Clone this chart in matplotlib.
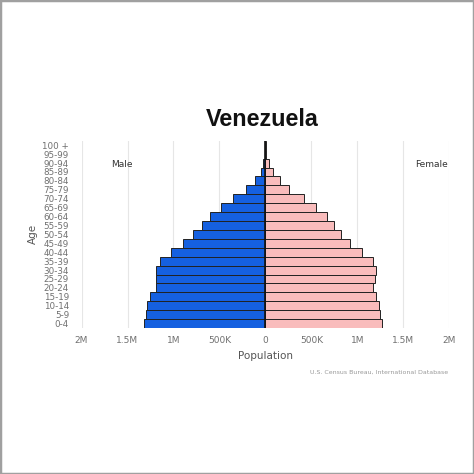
import numpy as np
import matplotlib
matplotlib.use("Agg")
import matplotlib.pyplot as plt

# age groups, bottom to top
age_groups = ["0-4", "5-9", "10-14", "15-19", "20-24", "25-29", "30-34",
              "35-39", "40-44", "45-49", "50-54", "55-59", "60-64", "65-69",
              "70-74", "75-79", "80-84", "85-89", "90-94", "95-99", "100 +"]

# population
male = [1320000, 1297000, 1286000, 1260000, 1190000, 1190000, 1190000,
        1145000, 1030000, 900000, 790000, 690000, 600000, 480000,
        350000, 210000, 112000, 50000, 22000, 5000, 800]
female = [1270000, 1250000, 1240000, 1207000, 1170000, 1190000, 1200000,
          1170000, 1050000, 920000, 820000, 750000, 670000, 550000,
          420000, 260000, 163000, 84000, 37000, 10000, 2000]

tick_vals = [-2000000, -1500000, -1000000, -500000, 0, 500000, 1000000, 1500000, 2000000]
tick_labels = ["2M", "1.5M", "1M", "500K", "0", "500K", "1M", "1.5M", "2M"]

fig = plt.figure(figsize=(4.74, 4.74), dpi=100)
ax = fig.add_axes([0.172, 0.308, 0.776, 0.395])

y = np.arange(len(age_groups))
ax.barh(y, -np.array(male), height=1.0, color="#1560e0", edgecolor="#222222", linewidth=0.7, zorder=3)
ax.barh(y, female, height=1.0, color="#f9bcbc", edgecolor="#222222", linewidth=0.7, zorder=3)
ax.axvline(0, color="#111111", linewidth=1.2, zorder=4)

ax.set_xlim(-2000000, 2000000)
ax.set_ylim(-0.5, len(age_groups) - 0.5)
ax.set_xticks(tick_vals)
ax.set_xticklabels(tick_labels, fontsize=6.5, color="#707070")
ax.set_yticks(y)
ax.set_yticklabels(age_groups, fontsize=6.3, color="#707070")
ax.tick_params(axis="both", length=0)
ax.tick_params(axis="y", pad=9)
ax.tick_params(axis="x", pad=6)
ax.grid(axis="x", color="#e6e6e6", linewidth=0.8, zorder=0)
for s in ax.spines.values():
    s.set_visible(False)

ax.set_xlabel("Population", fontsize=7.5, color="#555555", labelpad=4)
ax.set_ylabel("Age", fontsize=7.5, color="#555555", labelpad=3)

ax.text(0.11, 0.875, "Male", transform=ax.transAxes, ha="center", va="center", fontsize=6.5, color="#333333")
ax.text(0.952, 0.875, "Female", transform=ax.transAxes, ha="center", va="center", fontsize=6.5, color="#333333")

fig.text(262 / 474, 1 - 120 / 474, "Venezuela", ha="center", va="center",
         fontsize=16.8, fontweight="bold", color="#111111", family="Liberation Sans")
fig.text(448 / 474, 1 - 372 / 474, "U.S. Census Bureau, International Database",
         ha="right", va="center", fontsize=4.5, color="#999999")

# thin grey frame around the image
fig.patches.append(plt.Rectangle((0, 0), 1, 1, transform=fig.transFigure, fill=False,
                                 edgecolor="#a0a0a0", linewidth=2.5))

fig.savefig("out.png", dpi=100)
